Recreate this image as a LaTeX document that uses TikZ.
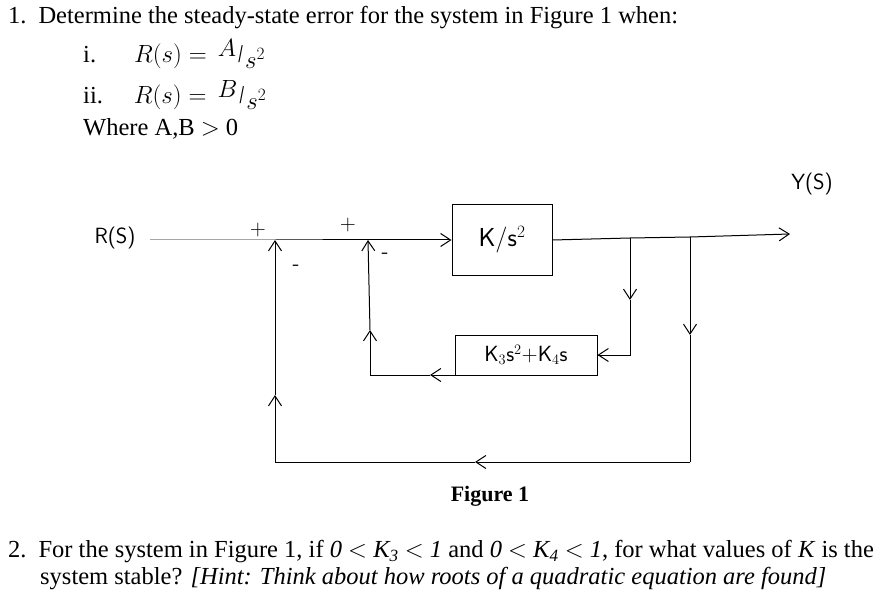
\documentclass[tikz,border=0pt]{standalone}
\usepackage{fontspec}
\setmainfont{Liberation Serif}
\usetikzlibrary{arrows.meta}
\newcommand{\myfrac}[2]{\raisebox{6pt}{$#1$}\rotatebox{8}{/}\raisebox{-6pt}{$#2$}}
\begin{document}
\begin{tikzpicture}[x=1pt,y=-1pt,
  txt/.style={anchor=west,inner sep=0pt,font=\fontsize{24.5}{28}\selectfont},
  hand/.style={inner sep=0pt,font=\fontsize{22}{24}\selectfont\sffamily},
  wire/.style={line width=1pt},
  arr/.style={wire,-{Straight Barb[length=10pt,width=13pt]}},
  blk/.style={draw,line width=1pt,minimum width=100pt,minimum height=70pt,inner sep=0pt}]
\useasboundingbox (0,0) rectangle (889,604);
\node[txt] (t1) at (8,18) {1.\hspace{12pt}Determine the steady-state error for the system in Figure 1 when:};
\node[txt] (t2) at (83,54) {i.\hspace{38pt}$R(s)={}$\,\myfrac{A}{s^2}};
\node[txt] (t3) at (83,95) {ii.\hspace{31pt}$R(s)={}$\,\myfrac{B}{s^2}};
\node[txt] (t4) at (83,129) {Where A,B $>$ 0};
\node[hand] (R) at (115,238) {R(S)};
\node[hand] (Y) at (812,184) {Y(S)};
\coordinate (in) at (150,240);
\coordinate (s1) at (275,240);
\coordinate (s2) at (368,240);
\node[blk] (G) at (502,240) {\fontsize{26}{28}\selectfont\sffamily K/s$^2$};
\node[blk,minimum width=142pt,minimum height=40pt] (H) at (526,355) {\fontsize{22}{24}\selectfont\sffamily K$_3$s$^2$+K$_4$s};
\coordinate (b1) at (630,238);
\coordinate (b2) at (690,237);
\coordinate (out) at (790,234);
\coordinate (hl) at (370,375);
\coordinate (bb) at (690,462);
\coordinate (bl) at (275,462);
\node[hand] (p1) at (258,230) {+};
\node[hand] (m1) at (296,268) {-};
\node[hand] (p2) at (348,225) {+};
\node[hand] (m2) at (385,256) {-};
\draw[wire] (in) -- (s1) -- (s2);
\draw[arr] (s2) -- (G.west);
\draw[wire] (G.east) -- (b1) -- (b2);
\draw[arr] (b2) -- (out);
\draw[arr] (b1) -- (630,300);
\draw[wire] (630,300) |- (H.east);
\draw[arr] (b1|-H.east) -- (H.east);
\draw[arr] (H.west|-hl) -- (430,375);
\draw[wire] (430,375) -- (hl);
\draw[arr] (hl) -- (370,330);
\draw[arr] (370,330) -- (s2);
\draw[arr] (b2) -- (690,335);
\draw[wire] (690,335) -- (bb);
\draw[arr] (bb) -- (475,462);
\draw[wire] (475,462) -- (bl);
\draw[arr] (bl) -- (275,395);
\draw[arr] (275,395) -- (s1);
\node[txt,anchor=center,font=\fontsize{22}{24}\selectfont\bfseries] (fig) at (490,496) {Figure 1};
\node[txt] (q1) at (8,552) {2.\hspace{12pt}For the system in Figure 1, if \textit{0} $<$ \textit{K\textsubscript{3}} $<$ \textit{1} and \textit{0} $<$ \textit{K\textsubscript{4}} $<$ \textit{1}, for what values of \textit{K} is the};
\node[txt] (q2) at (40,579) {system stable? \textit{[Hint: Think about how roots of a quadratic equation are found]}};
\end{tikzpicture}
\end{document}
